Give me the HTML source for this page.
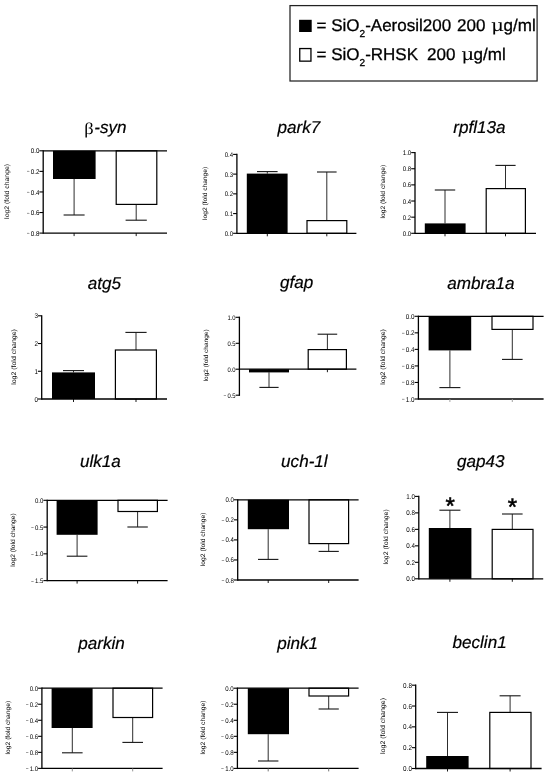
<!DOCTYPE html>
<html lang="en">
<head>
<meta charset="utf-8">
<title>Gene expression bar charts</title>
<style>
html,body{margin:0;padding:0;background:#fff;}
body{width:550px;height:778px;overflow:hidden;}
svg{display:block;font-family:"Liberation Sans", sans-serif;fill:#000;text-rendering:geometricPrecision;}
</style>
</head>
<body>
<svg width="550" height="778" viewBox="0 0 550 778">
<rect x="0" y="0" width="550" height="778" fill="#fff"/>
<g>
<rect x="290" y="5.6" width="247.1" height="75.4" fill="#fff" stroke="#222" stroke-width="1.25"/>
<rect x="299.1" y="19.8" width="12.6" height="12.2" fill="#000"/>
<rect x="299.75" y="48.55" width="11.2" height="12.6" fill="#fff" stroke="#000" stroke-width="1.3"/>
<text x="316.6" y="31.2" font-size="17" stroke="#000" stroke-width="0.3">= SiO<tspan font-size="10" dy="5.5">2</tspan><tspan dy="-5.5">-Aerosil200 </tspan><tspan x="457">200 </tspan><tspan x="503.6" textLength="32.2" lengthAdjust="spacing">g/ml</tspan></text><text transform="translate(491.1 31.2) scale(1.18 1)" font-size="17" font-family="&quot;DejaVu Serif&quot;, &quot;Liberation Serif&quot;, serif">μ</text>
<text x="316.6" y="60.4" font-size="17" stroke="#000" stroke-width="0.3">= SiO<tspan font-size="10" dy="5.5">2</tspan><tspan dy="-5.5">-RHSK </tspan><tspan x="427">200 </tspan><tspan x="473.6" textLength="32.2" lengthAdjust="spacing">g/ml</tspan></text><text transform="translate(461.2 60.4) scale(1.18 1)" font-size="17" font-family="&quot;DejaVu Serif&quot;, &quot;Liberation Serif&quot;, serif">μ</text>
</g>
<g>
<text transform="translate(84.3 134.3) scale(1.12 1)" font-size="16.5" font-family="&quot;Liberation Serif&quot;, &quot;DejaVu Serif&quot;, serif">β</text><text x="94.3" y="133.2" font-size="17.1" font-style="italic" stroke="#000" stroke-width="0.2">-syn</text>
<text transform="translate(9.3 191.4) rotate(-90)" font-size="6.5" text-anchor="middle" textLength="54.97" lengthAdjust="spacingAndGlyphs">log2 (fold change)</text>
<line x1="74.1" y1="179" x2="74.1" y2="215" stroke="#151515" stroke-width="0.9"/>
<line x1="63.6" y1="215" x2="84.6" y2="215" stroke="#151515" stroke-width="1.1"/>
<rect x="53" y="150.8" width="42.6" height="28.2" fill="#000"/>
<line x1="136.2" y1="204.4" x2="136.2" y2="220.2" stroke="#151515" stroke-width="0.9"/>
<line x1="125.6" y1="220.2" x2="146.8" y2="220.2" stroke="#151515" stroke-width="1.1"/>
<rect x="116.2" y="150.8" width="40.6" height="53.6" fill="#fff" stroke="#000" stroke-width="1.2"/>
<line x1="43.2" y1="150.15" x2="43.2" y2="233.75" stroke="#000" stroke-width="1.3"/>
<line x1="43.2" y1="233.1" x2="167" y2="233.1" stroke="#000" stroke-width="1.3"/>
<line x1="43.2" y1="150.8" x2="167" y2="150.8" stroke="#000" stroke-width="1.3"/>
<line x1="74.1" y1="233.1" x2="74.1" y2="236.1" stroke="#000" stroke-width="0.9"/>
<line x1="136.2" y1="233.1" x2="136.2" y2="236.1" stroke="#000" stroke-width="0.9"/>
<line x1="39.4" y1="150.8" x2="43.2" y2="150.8" stroke="#000" stroke-width="1.1"/>
<text transform="translate(39.4 153.4) scale(0.9 1)" font-size="6.9" text-anchor="end">0.0</text>
<line x1="39.4" y1="171.38" x2="43.2" y2="171.38" stroke="#000" stroke-width="1.1"/>
<text transform="translate(39.4 173.97) scale(0.9 1)" font-size="6.9" text-anchor="end"><tspan font-size="5.6" dy="-0.6">−</tspan><tspan dx="1.3" dy="0.6">0.2</tspan></text>
<line x1="39.4" y1="191.95" x2="43.2" y2="191.95" stroke="#000" stroke-width="1.1"/>
<text transform="translate(39.4 194.55) scale(0.9 1)" font-size="6.9" text-anchor="end"><tspan font-size="5.6" dy="-0.6">−</tspan><tspan dx="1.3" dy="0.6">0.4</tspan></text>
<line x1="39.4" y1="212.53" x2="43.2" y2="212.53" stroke="#000" stroke-width="1.1"/>
<text transform="translate(39.4 215.12) scale(0.9 1)" font-size="6.9" text-anchor="end"><tspan font-size="5.6" dy="-0.6">−</tspan><tspan dx="1.3" dy="0.6">0.6</tspan></text>
<line x1="39.4" y1="233.1" x2="43.2" y2="233.1" stroke="#000" stroke-width="1.1"/>
<text transform="translate(39.4 235.7) scale(0.9 1)" font-size="6.9" text-anchor="end"><tspan font-size="5.6" dy="-0.6">−</tspan><tspan dx="1.3" dy="0.6">0.8</tspan></text>
</g>
<g>
<text x="298.9" y="133.2" font-size="17.1" font-style="italic" text-anchor="middle" stroke="#000" stroke-width="0.2">park7</text>
<text transform="translate(206.9 193.4) rotate(-90)" font-size="6.27" text-anchor="middle" textLength="53.06" lengthAdjust="spacingAndGlyphs">log2 (fold change)</text>
<line x1="267.3" y1="173.6" x2="267.3" y2="171.6" stroke="#151515" stroke-width="0.9"/>
<line x1="257" y1="171.6" x2="277.6" y2="171.6" stroke="#151515" stroke-width="1.1"/>
<rect x="246.8" y="173.6" width="40.8" height="59.7" fill="#000"/>
<line x1="326.8" y1="220.6" x2="326.8" y2="172" stroke="#151515" stroke-width="0.9"/>
<line x1="317" y1="172" x2="336.6" y2="172" stroke="#151515" stroke-width="1.1"/>
<rect x="307" y="220.6" width="39.8" height="12.7" fill="#fff" stroke="#000" stroke-width="1.2"/>
<line x1="236.9" y1="153.75" x2="236.9" y2="233.95" stroke="#000" stroke-width="1.3"/>
<line x1="236.9" y1="233.3" x2="356.4" y2="233.3" stroke="#000" stroke-width="1.3"/>
<line x1="267.3" y1="233.3" x2="267.3" y2="236.3" stroke="#000" stroke-width="0.9"/>
<line x1="326.8" y1="233.3" x2="326.8" y2="236.3" stroke="#000" stroke-width="0.9"/>
<line x1="233.1" y1="154.4" x2="236.9" y2="154.4" stroke="#000" stroke-width="1.1"/>
<text transform="translate(233.1 156.91) scale(0.9 1)" font-size="6.66" text-anchor="end">0.4</text>
<line x1="233.1" y1="174.12" x2="236.9" y2="174.12" stroke="#000" stroke-width="1.1"/>
<text transform="translate(233.1 176.63) scale(0.9 1)" font-size="6.66" text-anchor="end">0.3</text>
<line x1="233.1" y1="193.85" x2="236.9" y2="193.85" stroke="#000" stroke-width="1.1"/>
<text transform="translate(233.1 196.36) scale(0.9 1)" font-size="6.66" text-anchor="end">0.2</text>
<line x1="233.1" y1="213.58" x2="236.9" y2="213.58" stroke="#000" stroke-width="1.1"/>
<text transform="translate(233.1 216.08) scale(0.9 1)" font-size="6.66" text-anchor="end">0.1</text>
<line x1="233.1" y1="233.3" x2="236.9" y2="233.3" stroke="#000" stroke-width="1.1"/>
<text transform="translate(233.1 235.81) scale(0.9 1)" font-size="6.66" text-anchor="end">0.0</text>
</g>
<g>
<text x="479.35" y="133.2" font-size="17.1" font-style="italic" text-anchor="middle" stroke="#000" stroke-width="0.2">rpfl13a</text>
<text transform="translate(384.6 191.7) rotate(-90)" font-size="6.35" text-anchor="middle" textLength="53.72" lengthAdjust="spacingAndGlyphs">log2 (fold change)</text>
<line x1="445" y1="223.4" x2="445" y2="190" stroke="#151515" stroke-width="0.9"/>
<line x1="434.8" y1="190" x2="455.2" y2="190" stroke="#151515" stroke-width="1.1"/>
<rect x="424.8" y="223.4" width="40.8" height="9.9" fill="#000"/>
<line x1="505.5" y1="188.6" x2="505.5" y2="165.4" stroke="#151515" stroke-width="0.9"/>
<line x1="495.4" y1="165.4" x2="515.6" y2="165.4" stroke="#151515" stroke-width="1.1"/>
<rect x="486.2" y="188.6" width="39.2" height="44.7" fill="#fff" stroke="#000" stroke-width="1.2"/>
<line x1="415" y1="151.95" x2="415" y2="233.95" stroke="#000" stroke-width="1.3"/>
<line x1="415" y1="233.3" x2="536" y2="233.3" stroke="#000" stroke-width="1.3"/>
<line x1="445" y1="233.3" x2="445" y2="236.3" stroke="#000" stroke-width="0.9"/>
<line x1="505.5" y1="233.3" x2="505.5" y2="236.3" stroke="#000" stroke-width="0.9"/>
<line x1="411.2" y1="152.6" x2="415" y2="152.6" stroke="#000" stroke-width="1.1"/>
<text transform="translate(411.2 155.14) scale(0.9 1)" font-size="6.74" text-anchor="end">1.0</text>
<line x1="411.2" y1="168.74" x2="415" y2="168.74" stroke="#000" stroke-width="1.1"/>
<text transform="translate(411.2 171.28) scale(0.9 1)" font-size="6.74" text-anchor="end">0.8</text>
<line x1="411.2" y1="184.88" x2="415" y2="184.88" stroke="#000" stroke-width="1.1"/>
<text transform="translate(411.2 187.42) scale(0.9 1)" font-size="6.74" text-anchor="end">0.6</text>
<line x1="411.2" y1="201.02" x2="415" y2="201.02" stroke="#000" stroke-width="1.1"/>
<text transform="translate(411.2 203.56) scale(0.9 1)" font-size="6.74" text-anchor="end">0.4</text>
<line x1="411.2" y1="217.16" x2="415" y2="217.16" stroke="#000" stroke-width="1.1"/>
<text transform="translate(411.2 219.7) scale(0.9 1)" font-size="6.74" text-anchor="end">0.2</text>
<line x1="411.2" y1="233.3" x2="415" y2="233.3" stroke="#000" stroke-width="1.1"/>
<text transform="translate(411.2 235.84) scale(0.9 1)" font-size="6.74" text-anchor="end">0.0</text>
</g>
<g>
<text x="104.45" y="288.9" font-size="17.1" font-style="italic" text-anchor="middle" stroke="#000" stroke-width="0.2">atg5</text>
<text transform="translate(15.6 357) rotate(-90)" font-size="6.58" text-anchor="middle" textLength="55.63" lengthAdjust="spacingAndGlyphs">log2 (fold change)</text>
<line x1="73.5" y1="372.4" x2="73.5" y2="370.6" stroke="#151515" stroke-width="0.9"/>
<line x1="63" y1="370.6" x2="84" y2="370.6" stroke="#151515" stroke-width="1.1"/>
<rect x="52" y="372.4" width="43" height="26.6" fill="#000"/>
<line x1="136" y1="350" x2="136" y2="332.4" stroke="#151515" stroke-width="0.9"/>
<line x1="125.4" y1="332.4" x2="146.6" y2="332.4" stroke="#151515" stroke-width="1.1"/>
<rect x="115.4" y="350" width="41" height="49" fill="#fff" stroke="#000" stroke-width="1.2"/>
<line x1="41.7" y1="315.15" x2="41.7" y2="399.65" stroke="#000" stroke-width="1.3"/>
<line x1="41.7" y1="399" x2="167" y2="399" stroke="#000" stroke-width="1.3"/>
<line x1="73.5" y1="399" x2="73.5" y2="402" stroke="#000" stroke-width="0.9"/>
<line x1="136" y1="399" x2="136" y2="402" stroke="#000" stroke-width="0.9"/>
<line x1="37.9" y1="315.8" x2="41.7" y2="315.8" stroke="#000" stroke-width="1.1"/>
<text transform="translate(37.9 318.43) scale(0.9 1)" font-size="6.98" text-anchor="end">3</text>
<line x1="37.9" y1="343.53" x2="41.7" y2="343.53" stroke="#000" stroke-width="1.1"/>
<text transform="translate(37.9 346.16) scale(0.9 1)" font-size="6.98" text-anchor="end">2</text>
<line x1="37.9" y1="371.27" x2="41.7" y2="371.27" stroke="#000" stroke-width="1.1"/>
<text transform="translate(37.9 373.9) scale(0.9 1)" font-size="6.98" text-anchor="end">1</text>
<line x1="37.9" y1="399" x2="41.7" y2="399" stroke="#000" stroke-width="1.1"/>
<text transform="translate(37.9 401.63) scale(0.9 1)" font-size="6.98" text-anchor="end">0</text>
</g>
<g>
<text x="296.6" y="287.8" font-size="17.1" font-style="italic" text-anchor="middle" stroke="#000" stroke-width="0.2">gfap</text>
<text transform="translate(208.3 355.4) rotate(-90)" font-size="6.14" text-anchor="middle" textLength="51.95" lengthAdjust="spacingAndGlyphs">log2 (fold change)</text>
<line x1="269" y1="372.4" x2="269" y2="387.4" stroke="#151515" stroke-width="0.9"/>
<line x1="259.4" y1="387.4" x2="278.6" y2="387.4" stroke="#151515" stroke-width="1.1"/>
<rect x="249" y="369.2" width="40" height="3.2" fill="#000"/>
<line x1="327.4" y1="349.6" x2="327.4" y2="334.2" stroke="#151515" stroke-width="0.9"/>
<line x1="317.6" y1="334.2" x2="337.2" y2="334.2" stroke="#151515" stroke-width="1.1"/>
<rect x="308.2" y="349.6" width="38.2" height="19.6" fill="#fff" stroke="#000" stroke-width="1.2"/>
<line x1="239.4" y1="316.65" x2="239.4" y2="395.85" stroke="#000" stroke-width="1.3"/>
<line x1="239.4" y1="369.2" x2="356.4" y2="369.2" stroke="#000" stroke-width="1.3"/>
<line x1="269" y1="369.2" x2="269" y2="372.2" stroke="#000" stroke-width="0.9"/>
<line x1="327.4" y1="369.2" x2="327.4" y2="372.2" stroke="#000" stroke-width="0.9"/>
<line x1="235.6" y1="317.3" x2="239.4" y2="317.3" stroke="#000" stroke-width="1.1"/>
<text transform="translate(235.6 319.76) scale(0.9 1)" font-size="6.52" text-anchor="end">1.0</text>
<line x1="235.6" y1="343.3" x2="239.4" y2="343.3" stroke="#000" stroke-width="1.1"/>
<text transform="translate(235.6 345.76) scale(0.9 1)" font-size="6.52" text-anchor="end">0.5</text>
<line x1="235.6" y1="369.2" x2="239.4" y2="369.2" stroke="#000" stroke-width="1.1"/>
<text transform="translate(235.6 371.66) scale(0.9 1)" font-size="6.52" text-anchor="end">0.0</text>
<line x1="235.6" y1="395.2" x2="239.4" y2="395.2" stroke="#000" stroke-width="1.1"/>
<text transform="translate(235.6 397.66) scale(0.9 1)" font-size="6.52" text-anchor="end"><tspan font-size="5.29" dy="-0.6">−</tspan><tspan dx="1.3" dy="0.6">0.5</tspan></text>
</g>
<g>
<text x="480.9" y="289.3" font-size="17.1" font-style="italic" text-anchor="middle" stroke="#000" stroke-width="0.2">ambra1a</text>
<text transform="translate(384.8 356.9) rotate(-90)" font-size="6.57" text-anchor="middle" textLength="55.59" lengthAdjust="spacingAndGlyphs">log2 (fold change)</text>
<line x1="449.9" y1="350.4" x2="449.9" y2="387.6" stroke="#151515" stroke-width="0.9"/>
<line x1="439.4" y1="387.6" x2="460.4" y2="387.6" stroke="#151515" stroke-width="1.1"/>
<rect x="428.6" y="316.3" width="42.6" height="34.1" fill="#000"/>
<line x1="512.3" y1="329.4" x2="512.3" y2="359.4" stroke="#151515" stroke-width="0.9"/>
<line x1="502" y1="359.4" x2="522.6" y2="359.4" stroke="#151515" stroke-width="1.1"/>
<rect x="492" y="316.3" width="41" height="13.1" fill="#fff" stroke="#000" stroke-width="1.2"/>
<line x1="418.4" y1="315.65" x2="418.4" y2="399.65" stroke="#000" stroke-width="1.3"/>
<line x1="418.4" y1="399" x2="543.6" y2="399" stroke="#000" stroke-width="1.3"/>
<line x1="418.4" y1="316.3" x2="543.6" y2="316.3" stroke="#000" stroke-width="1.3"/>
<line x1="449.9" y1="399" x2="449.9" y2="402" stroke="#999" stroke-width="0.9"/>
<line x1="512.3" y1="399" x2="512.3" y2="402" stroke="#999" stroke-width="0.9"/>
<line x1="414.6" y1="316.3" x2="418.4" y2="316.3" stroke="#000" stroke-width="1.1"/>
<text transform="translate(414.6 318.93) scale(0.9 1)" font-size="6.98" text-anchor="end">0.0</text>
<line x1="414.6" y1="332.84" x2="418.4" y2="332.84" stroke="#000" stroke-width="1.1"/>
<text transform="translate(414.6 335.47) scale(0.9 1)" font-size="6.98" text-anchor="end"><tspan font-size="5.66" dy="-0.6">−</tspan><tspan dx="1.3" dy="0.6">0.2</tspan></text>
<line x1="414.6" y1="349.38" x2="418.4" y2="349.38" stroke="#000" stroke-width="1.1"/>
<text transform="translate(414.6 352.01) scale(0.9 1)" font-size="6.98" text-anchor="end"><tspan font-size="5.66" dy="-0.6">−</tspan><tspan dx="1.3" dy="0.6">0.4</tspan></text>
<line x1="414.6" y1="365.92" x2="418.4" y2="365.92" stroke="#000" stroke-width="1.1"/>
<text transform="translate(414.6 368.55) scale(0.9 1)" font-size="6.98" text-anchor="end"><tspan font-size="5.66" dy="-0.6">−</tspan><tspan dx="1.3" dy="0.6">0.6</tspan></text>
<line x1="414.6" y1="382.46" x2="418.4" y2="382.46" stroke="#000" stroke-width="1.1"/>
<text transform="translate(414.6 385.09) scale(0.9 1)" font-size="6.98" text-anchor="end"><tspan font-size="5.66" dy="-0.6">−</tspan><tspan dx="1.3" dy="0.6">0.8</tspan></text>
<line x1="414.6" y1="399" x2="418.4" y2="399" stroke="#000" stroke-width="1.1"/>
<text transform="translate(414.6 401.63) scale(0.9 1)" font-size="6.98" text-anchor="end"><tspan font-size="5.66" dy="-0.6">−</tspan><tspan dx="1.3" dy="0.6">1.0</tspan></text>
</g>
<g>
<text x="100.4" y="466.8" font-size="17.1" font-style="italic" text-anchor="middle" stroke="#000" stroke-width="0.2">ulk1a</text>
<text transform="translate(14.5 540) rotate(-90)" font-size="6.32" text-anchor="middle" textLength="53.46" lengthAdjust="spacingAndGlyphs">log2 (fold change)</text>
<line x1="77.1" y1="534.8" x2="77.1" y2="556.2" stroke="#151515" stroke-width="0.9"/>
<line x1="66.8" y1="556.2" x2="87.4" y2="556.2" stroke="#151515" stroke-width="1.1"/>
<rect x="56.6" y="500.3" width="41" height="34.5" fill="#000"/>
<line x1="137.6" y1="511.5" x2="137.6" y2="527" stroke="#151515" stroke-width="0.9"/>
<line x1="127.4" y1="527" x2="147.8" y2="527" stroke="#151515" stroke-width="1.1"/>
<rect x="118" y="500.3" width="39.4" height="11.2" fill="#fff" stroke="#000" stroke-width="1.2"/>
<line x1="47.2" y1="499.65" x2="47.2" y2="581.25" stroke="#000" stroke-width="1.3"/>
<line x1="47.2" y1="580.6" x2="167.6" y2="580.6" stroke="#000" stroke-width="1.3"/>
<line x1="47.2" y1="500.3" x2="167.6" y2="500.3" stroke="#000" stroke-width="1.3"/>
<line x1="77.1" y1="580.6" x2="77.1" y2="583.6" stroke="#000" stroke-width="0.9"/>
<line x1="137.6" y1="580.6" x2="137.6" y2="583.6" stroke="#000" stroke-width="0.9"/>
<line x1="43.4" y1="500.3" x2="47.2" y2="500.3" stroke="#000" stroke-width="1.1"/>
<text transform="translate(43.4 502.83) scale(0.9 1)" font-size="6.71" text-anchor="end">0.0</text>
<line x1="43.4" y1="527.07" x2="47.2" y2="527.07" stroke="#000" stroke-width="1.1"/>
<text transform="translate(43.4 529.6) scale(0.9 1)" font-size="6.71" text-anchor="end"><tspan font-size="5.45" dy="-0.6">−</tspan><tspan dx="1.3" dy="0.6">0.5</tspan></text>
<line x1="43.4" y1="553.83" x2="47.2" y2="553.83" stroke="#000" stroke-width="1.1"/>
<text transform="translate(43.4 556.36) scale(0.9 1)" font-size="6.71" text-anchor="end"><tspan font-size="5.45" dy="-0.6">−</tspan><tspan dx="1.3" dy="0.6">1.0</tspan></text>
<line x1="43.4" y1="580.6" x2="47.2" y2="580.6" stroke="#000" stroke-width="1.1"/>
<text transform="translate(43.4 583.13) scale(0.9 1)" font-size="6.71" text-anchor="end"><tspan font-size="5.45" dy="-0.6">−</tspan><tspan dx="1.3" dy="0.6">1.5</tspan></text>
</g>
<g>
<text x="304.4" y="467.2" font-size="17.1" font-style="italic" text-anchor="middle" stroke="#000" stroke-width="0.2">uch-1l</text>
<text transform="translate(205.2 539.3) rotate(-90)" font-size="6.35" text-anchor="middle" textLength="53.68" lengthAdjust="spacingAndGlyphs">log2 (fold change)</text>
<line x1="268.2" y1="529.2" x2="268.2" y2="559.4" stroke="#151515" stroke-width="0.9"/>
<line x1="258" y1="559.4" x2="278.4" y2="559.4" stroke="#151515" stroke-width="1.1"/>
<rect x="247.8" y="499.8" width="41.2" height="29.4" fill="#000"/>
<line x1="328.7" y1="543.6" x2="328.7" y2="551.4" stroke="#151515" stroke-width="0.9"/>
<line x1="318.6" y1="551.4" x2="338.8" y2="551.4" stroke="#151515" stroke-width="1.1"/>
<rect x="309" y="499.8" width="39.6" height="43.8" fill="#fff" stroke="#000" stroke-width="1.2"/>
<line x1="237.7" y1="499.15" x2="237.7" y2="580.65" stroke="#000" stroke-width="1.3"/>
<line x1="237.7" y1="580" x2="358.6" y2="580" stroke="#000" stroke-width="1.3"/>
<line x1="237.7" y1="499.8" x2="358.6" y2="499.8" stroke="#000" stroke-width="1.3"/>
<line x1="268.2" y1="580" x2="268.2" y2="583" stroke="#000" stroke-width="0.9"/>
<line x1="328.7" y1="580" x2="328.7" y2="583" stroke="#000" stroke-width="0.9"/>
<line x1="233.9" y1="499.8" x2="237.7" y2="499.8" stroke="#000" stroke-width="1.1"/>
<text transform="translate(233.9 502.34) scale(0.9 1)" font-size="6.74" text-anchor="end">0.0</text>
<line x1="233.9" y1="519.85" x2="237.7" y2="519.85" stroke="#000" stroke-width="1.1"/>
<text transform="translate(233.9 522.39) scale(0.9 1)" font-size="6.74" text-anchor="end"><tspan font-size="5.47" dy="-0.6">−</tspan><tspan dx="1.3" dy="0.6">0.2</tspan></text>
<line x1="233.9" y1="539.9" x2="237.7" y2="539.9" stroke="#000" stroke-width="1.1"/>
<text transform="translate(233.9 542.44) scale(0.9 1)" font-size="6.74" text-anchor="end"><tspan font-size="5.47" dy="-0.6">−</tspan><tspan dx="1.3" dy="0.6">0.4</tspan></text>
<line x1="233.9" y1="559.95" x2="237.7" y2="559.95" stroke="#000" stroke-width="1.1"/>
<text transform="translate(233.9 562.49) scale(0.9 1)" font-size="6.74" text-anchor="end"><tspan font-size="5.47" dy="-0.6">−</tspan><tspan dx="1.3" dy="0.6">0.6</tspan></text>
<line x1="233.9" y1="580" x2="237.7" y2="580" stroke="#000" stroke-width="1.1"/>
<text transform="translate(233.9 582.54) scale(0.9 1)" font-size="6.74" text-anchor="end"><tspan font-size="5.47" dy="-0.6">−</tspan><tspan dx="1.3" dy="0.6">0.8</tspan></text>
</g>
<g>
<text x="480.8" y="466.5" font-size="17.1" font-style="italic" text-anchor="middle" stroke="#000" stroke-width="0.2">gap43</text>
<text transform="translate(387.7 536.9) rotate(-90)" font-size="6.53" text-anchor="middle" textLength="55.23" lengthAdjust="spacingAndGlyphs">log2 (fold change)</text>
<line x1="449.9" y1="528" x2="449.9" y2="510.2" stroke="#151515" stroke-width="0.9"/>
<line x1="439.4" y1="510.2" x2="460.4" y2="510.2" stroke="#151515" stroke-width="1.1"/>
<rect x="428.8" y="528" width="42.6" height="50.8" fill="#000"/>
<line x1="512.3" y1="529.4" x2="512.3" y2="514" stroke="#151515" stroke-width="0.9"/>
<line x1="502" y1="514" x2="522.6" y2="514" stroke="#151515" stroke-width="1.1"/>
<rect x="492.2" y="529.4" width="40.8" height="49.4" fill="#fff" stroke="#000" stroke-width="1.2"/>
<line x1="418.8" y1="495.75" x2="418.8" y2="579.45" stroke="#000" stroke-width="1.3"/>
<line x1="418.8" y1="578.8" x2="543.2" y2="578.8" stroke="#000" stroke-width="1.3"/>
<line x1="449.9" y1="578.8" x2="449.9" y2="581.8" stroke="#000" stroke-width="0.9"/>
<line x1="512.3" y1="578.8" x2="512.3" y2="581.8" stroke="#000" stroke-width="0.9"/>
<line x1="415" y1="496.4" x2="418.8" y2="496.4" stroke="#000" stroke-width="1.1"/>
<text transform="translate(415 499.01) scale(0.9 1)" font-size="6.93" text-anchor="end">1.0</text>
<line x1="415" y1="512.88" x2="418.8" y2="512.88" stroke="#000" stroke-width="1.1"/>
<text transform="translate(415 515.49) scale(0.9 1)" font-size="6.93" text-anchor="end">0.8</text>
<line x1="415" y1="529.36" x2="418.8" y2="529.36" stroke="#000" stroke-width="1.1"/>
<text transform="translate(415 531.97) scale(0.9 1)" font-size="6.93" text-anchor="end">0.6</text>
<line x1="415" y1="545.84" x2="418.8" y2="545.84" stroke="#000" stroke-width="1.1"/>
<text transform="translate(415 548.45) scale(0.9 1)" font-size="6.93" text-anchor="end">0.4</text>
<line x1="415" y1="562.32" x2="418.8" y2="562.32" stroke="#000" stroke-width="1.1"/>
<text transform="translate(415 564.93) scale(0.9 1)" font-size="6.93" text-anchor="end">0.2</text>
<line x1="415" y1="578.8" x2="418.8" y2="578.8" stroke="#000" stroke-width="1.1"/>
<text transform="translate(415 581.41) scale(0.9 1)" font-size="6.93" text-anchor="end">0.0</text>
<text x="450.2" y="514.4" font-size="24" stroke="#000" stroke-width="0.55" text-anchor="middle">*</text>
<text x="512.5" y="514.5" font-size="24" stroke="#000" stroke-width="0.55" text-anchor="middle">*</text>
</g>
<g>
<text x="101.6" y="649.2" font-size="17.1" font-style="italic" text-anchor="middle" stroke="#000" stroke-width="0.2">parkin</text>
<text transform="translate(9.8 727.6) rotate(-90)" font-size="6.34" text-anchor="middle" textLength="53.59" lengthAdjust="spacingAndGlyphs">log2 (fold change)</text>
<line x1="72.3" y1="728" x2="72.3" y2="752.8" stroke="#151515" stroke-width="0.9"/>
<line x1="62" y1="752.8" x2="82.6" y2="752.8" stroke="#151515" stroke-width="1.1"/>
<rect x="51.6" y="688.2" width="41" height="39.8" fill="#000"/>
<line x1="132.7" y1="717.5" x2="132.7" y2="742.4" stroke="#151515" stroke-width="0.9"/>
<line x1="122.4" y1="742.4" x2="143" y2="742.4" stroke="#151515" stroke-width="1.1"/>
<rect x="113" y="688.2" width="39.6" height="29.3" fill="#fff" stroke="#000" stroke-width="1.2"/>
<line x1="41.9" y1="687.55" x2="41.9" y2="769.05" stroke="#000" stroke-width="1.3"/>
<line x1="41.9" y1="768.4" x2="162.6" y2="768.4" stroke="#000" stroke-width="1.3"/>
<line x1="41.9" y1="688.2" x2="162.6" y2="688.2" stroke="#000" stroke-width="1.3"/>
<line x1="72.3" y1="768.4" x2="72.3" y2="771.4" stroke="#888" stroke-width="0.9"/>
<line x1="132.7" y1="768.4" x2="132.7" y2="771.4" stroke="#888" stroke-width="0.9"/>
<line x1="38.1" y1="688.2" x2="41.9" y2="688.2" stroke="#000" stroke-width="1.1"/>
<text transform="translate(38.1 690.73) scale(0.9 1)" font-size="6.73" text-anchor="end">0.0</text>
<line x1="38.1" y1="704.24" x2="41.9" y2="704.24" stroke="#000" stroke-width="1.1"/>
<text transform="translate(38.1 706.77) scale(0.9 1)" font-size="6.73" text-anchor="end"><tspan font-size="5.46" dy="-0.6">−</tspan><tspan dx="1.3" dy="0.6">0.2</tspan></text>
<line x1="38.1" y1="720.28" x2="41.9" y2="720.28" stroke="#000" stroke-width="1.1"/>
<text transform="translate(38.1 722.81) scale(0.9 1)" font-size="6.73" text-anchor="end"><tspan font-size="5.46" dy="-0.6">−</tspan><tspan dx="1.3" dy="0.6">0.4</tspan></text>
<line x1="38.1" y1="736.32" x2="41.9" y2="736.32" stroke="#000" stroke-width="1.1"/>
<text transform="translate(38.1 738.85) scale(0.9 1)" font-size="6.73" text-anchor="end"><tspan font-size="5.46" dy="-0.6">−</tspan><tspan dx="1.3" dy="0.6">0.6</tspan></text>
<line x1="38.1" y1="752.36" x2="41.9" y2="752.36" stroke="#000" stroke-width="1.1"/>
<text transform="translate(38.1 754.89) scale(0.9 1)" font-size="6.73" text-anchor="end"><tspan font-size="5.46" dy="-0.6">−</tspan><tspan dx="1.3" dy="0.6">0.8</tspan></text>
<line x1="38.1" y1="768.4" x2="41.9" y2="768.4" stroke="#000" stroke-width="1.1"/>
<text transform="translate(38.1 770.93) scale(0.9 1)" font-size="6.73" text-anchor="end"><tspan font-size="5.46" dy="-0.6">−</tspan><tspan dx="1.3" dy="0.6">1.0</tspan></text>
</g>
<g>
<text x="297.6" y="648.6" font-size="17.1" font-style="italic" text-anchor="middle" stroke="#000" stroke-width="0.2">pink1</text>
<text transform="translate(205.2 727.5) rotate(-90)" font-size="6.36" text-anchor="middle" textLength="53.81" lengthAdjust="spacingAndGlyphs">log2 (fold change)</text>
<line x1="268.2" y1="734.2" x2="268.2" y2="761" stroke="#151515" stroke-width="0.9"/>
<line x1="258" y1="761" x2="278.4" y2="761" stroke="#151515" stroke-width="1.1"/>
<rect x="247.8" y="688.2" width="41.2" height="46" fill="#000"/>
<line x1="328.7" y1="696" x2="328.7" y2="709" stroke="#151515" stroke-width="0.9"/>
<line x1="318.6" y1="709" x2="338.8" y2="709" stroke="#151515" stroke-width="1.1"/>
<rect x="309" y="688.2" width="39.6" height="7.8" fill="#fff" stroke="#000" stroke-width="1.2"/>
<line x1="237.4" y1="687.55" x2="237.4" y2="769.05" stroke="#000" stroke-width="1.3"/>
<line x1="237.4" y1="768.4" x2="358.6" y2="768.4" stroke="#000" stroke-width="1.3"/>
<line x1="237.4" y1="688.2" x2="358.6" y2="688.2" stroke="#000" stroke-width="1.3"/>
<line x1="268.2" y1="768.4" x2="268.2" y2="771.4" stroke="#666" stroke-width="0.9"/>
<line x1="328.7" y1="768.4" x2="328.7" y2="771.4" stroke="#666" stroke-width="0.9"/>
<line x1="233.6" y1="688.2" x2="237.4" y2="688.2" stroke="#000" stroke-width="1.1"/>
<text transform="translate(233.6 690.75) scale(0.9 1)" font-size="6.76" text-anchor="end">0.0</text>
<line x1="233.6" y1="704.24" x2="237.4" y2="704.24" stroke="#000" stroke-width="1.1"/>
<text transform="translate(233.6 706.79) scale(0.9 1)" font-size="6.76" text-anchor="end"><tspan font-size="5.48" dy="-0.6">−</tspan><tspan dx="1.3" dy="0.6">0.2</tspan></text>
<line x1="233.6" y1="720.28" x2="237.4" y2="720.28" stroke="#000" stroke-width="1.1"/>
<text transform="translate(233.6 722.83) scale(0.9 1)" font-size="6.76" text-anchor="end"><tspan font-size="5.48" dy="-0.6">−</tspan><tspan dx="1.3" dy="0.6">0.4</tspan></text>
<line x1="233.6" y1="736.32" x2="237.4" y2="736.32" stroke="#000" stroke-width="1.1"/>
<text transform="translate(233.6 738.87) scale(0.9 1)" font-size="6.76" text-anchor="end"><tspan font-size="5.48" dy="-0.6">−</tspan><tspan dx="1.3" dy="0.6">0.6</tspan></text>
<line x1="233.6" y1="752.36" x2="237.4" y2="752.36" stroke="#000" stroke-width="1.1"/>
<text transform="translate(233.6 754.91) scale(0.9 1)" font-size="6.76" text-anchor="end"><tspan font-size="5.48" dy="-0.6">−</tspan><tspan dx="1.3" dy="0.6">0.8</tspan></text>
<line x1="233.6" y1="768.4" x2="237.4" y2="768.4" stroke="#000" stroke-width="1.1"/>
<text transform="translate(233.6 770.95) scale(0.9 1)" font-size="6.76" text-anchor="end"><tspan font-size="5.48" dy="-0.6">−</tspan><tspan dx="1.3" dy="0.6">1.0</tspan></text>
</g>
<g>
<text x="479.6" y="648.4" font-size="17.1" font-style="italic" text-anchor="middle" stroke="#000" stroke-width="0.2">beclin1</text>
<text transform="translate(384.6 726) rotate(-90)" font-size="6.61" text-anchor="middle" textLength="55.9" lengthAdjust="spacingAndGlyphs">log2 (fold change)</text>
<line x1="447.5" y1="756" x2="447.5" y2="712.4" stroke="#151515" stroke-width="0.9"/>
<line x1="437" y1="712.4" x2="458" y2="712.4" stroke="#151515" stroke-width="1.1"/>
<rect x="426.2" y="756" width="42.4" height="12.5" fill="#000"/>
<line x1="510.1" y1="712.4" x2="510.1" y2="695.8" stroke="#151515" stroke-width="0.9"/>
<line x1="499.6" y1="695.8" x2="520.6" y2="695.8" stroke="#151515" stroke-width="1.1"/>
<rect x="489.8" y="712.4" width="41.2" height="56.1" fill="#fff" stroke="#000" stroke-width="1.2"/>
<line x1="415.7" y1="684.55" x2="415.7" y2="769.15" stroke="#000" stroke-width="1.3"/>
<line x1="415.7" y1="768.5" x2="541.6" y2="768.5" stroke="#000" stroke-width="1.3"/>
<line x1="447.5" y1="768.5" x2="447.5" y2="771.5" stroke="#000" stroke-width="0.9"/>
<line x1="510.1" y1="768.5" x2="510.1" y2="771.5" stroke="#000" stroke-width="0.9"/>
<line x1="411.9" y1="685.2" x2="415.7" y2="685.2" stroke="#000" stroke-width="1.1"/>
<text transform="translate(411.9 687.84) scale(0.9 1)" font-size="7.02" text-anchor="end">0.8</text>
<line x1="411.9" y1="706.03" x2="415.7" y2="706.03" stroke="#000" stroke-width="1.1"/>
<text transform="translate(411.9 708.67) scale(0.9 1)" font-size="7.02" text-anchor="end">0.6</text>
<line x1="411.9" y1="726.85" x2="415.7" y2="726.85" stroke="#000" stroke-width="1.1"/>
<text transform="translate(411.9 729.49) scale(0.9 1)" font-size="7.02" text-anchor="end">0.4</text>
<line x1="411.9" y1="747.67" x2="415.7" y2="747.67" stroke="#000" stroke-width="1.1"/>
<text transform="translate(411.9 750.32) scale(0.9 1)" font-size="7.02" text-anchor="end">0.2</text>
<line x1="411.9" y1="768.5" x2="415.7" y2="768.5" stroke="#000" stroke-width="1.1"/>
<text transform="translate(411.9 771.14) scale(0.9 1)" font-size="7.02" text-anchor="end">0.0</text>
</g>
</svg>
</body>
</html>
